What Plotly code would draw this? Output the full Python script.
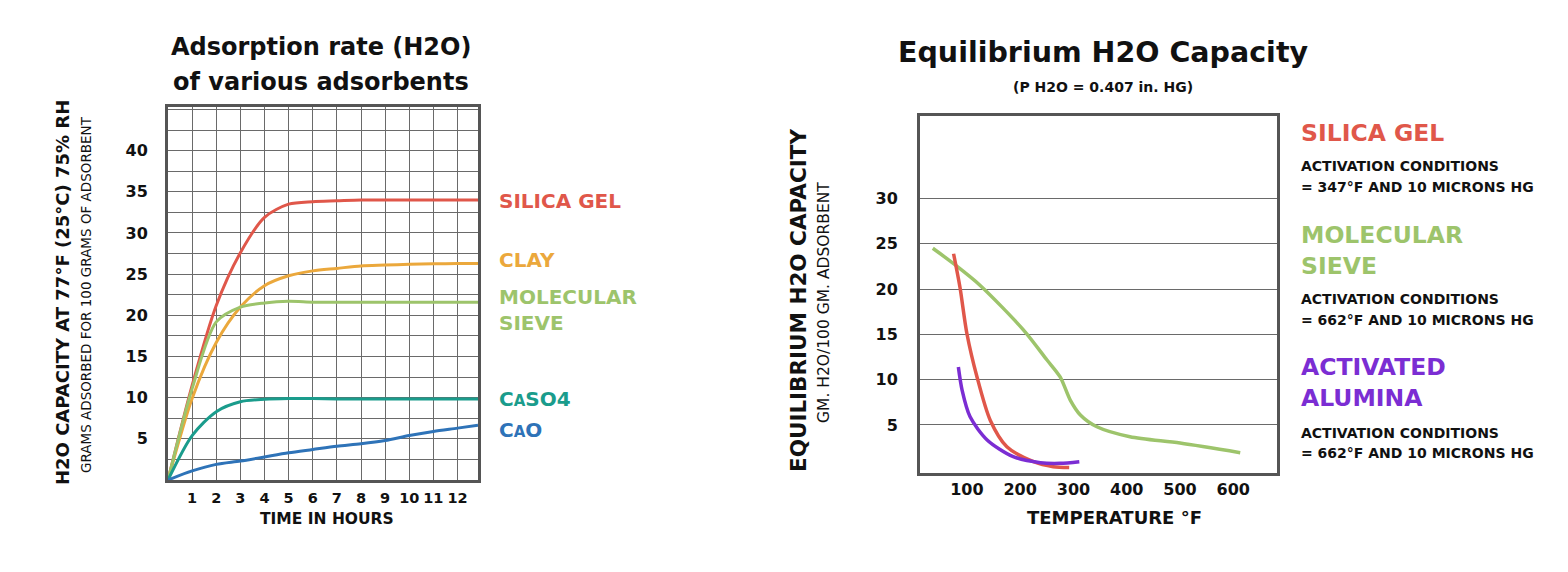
import plotly.graph_objects as go

# ---------------- data: left chart (adsorption rate) ----------------
hours = [0, 1, 2, 3, 4, 5, 6, 7, 8, 9, 10, 11, 12, 12.85]
silica_gel = [0, 11.5, 21.2, 27.6, 31.9, 33.5, 33.8, 33.9, 34.0, 34.0, 34.0, 34.0, 34.0, 34.0]
clay = [0, 9.9, 16.7, 21.0, 23.6, 24.8, 25.4, 25.7, 26.0, 26.1, 26.2, 26.25, 26.3, 26.3]
molecular_sieve = [0, 11.1, 19.2, 21.0, 21.5, 21.7, 21.6, 21.6, 21.6, 21.6, 21.6, 21.6, 21.6, 21.6]
caso4 = [0, 5.4, 8.3, 9.5, 9.8, 9.9, 9.9, 9.85, 9.85, 9.85, 9.85, 9.85, 9.85, 9.85]
cao = [0, 1.1, 1.9, 2.3, 2.8, 3.3, 3.7, 4.1, 4.4, 4.8, 5.4, 5.9, 6.3, 6.65]
left_x_ticks = [1, 2, 3, 4, 5, 6, 7, 8, 9, 10, 11, 12]
left_y_grid = [2.5, 5, 7.5, 10, 12.5, 15, 17.5, 20, 22.5, 25, 27.5, 30, 32.5, 35, 37.5, 40, 42.5, 45]
left_y_labels = ["", "5", "", "10", "", "15", "", "20", "", "25", "", "30", "", "35", "", "40", "", ""]

# ---------------- data: right chart (equilibrium capacity) ----------------
sieve_temp = [36, 75, 125, 206, 250, 275, 294, 313, 344, 406, 500, 613]
sieve_cap = [24.5, 22.8, 20.4, 15.5, 12.2, 10.3, 7.75, 6.1, 4.8, 3.7, 3.0, 1.94]
silica_temp = [75, 87, 100, 119, 144, 175, 225, 262, 292]
silica_cap = [23.9, 20.2, 15.1, 10.3, 5.5, 2.6, 0.95, 0.4, 0.3]
alumina_temp = [84, 91, 106, 138, 187, 238, 275, 311]
alumina_cap = [11.4, 8.85, 5.9, 3.35, 1.5, 0.84, 0.77, 0.95]
right_x_ticks = [100, 200, 300, 400, 500, 600]
right_y_ticks = [5, 10, 15, 20, 25, 30]

# ---------------- styles ----------------
W, H = 1568, 572
FONT = "DejaVu Sans"
RED = "#e0574a"
ORANGE = "#eba83c"
GREEN = "#9dc46b"
TEAL = "#1a9c8c"
BLUE = "#2e73b8"
PURPLE = "#7b2dd3"
BORDER = "#555555"
GRID = "#6a6a6a"
INK = "#111111"


def px(x, y):
    return x / W, 1 - y / H


fig = go.Figure()

left_series = [
    (silica_gel, RED),
    (clay, ORANGE),
    (molecular_sieve, GREEN),
    (caso4, TEAL),
    (cao, BLUE),
]
for vals, col in left_series:
    fig.add_trace(go.Scatter(x=hours, y=vals, mode="lines", xaxis="x", yaxis="y",
                             line=dict(color=col, width=3, shape="spline", smoothing=0.8),
                             showlegend=False, hoverinfo="skip"))

right_series = [
    (sieve_temp, sieve_cap, GREEN),
    (silica_temp, silica_cap, RED),
    (alumina_temp, alumina_cap, PURPLE),
]
for xs, ys, col in right_series:
    fig.add_trace(go.Scatter(x=xs, y=ys, mode="lines", xaxis="x2", yaxis="y2",
                             line=dict(color=col, width=3.5, shape="spline", smoothing=0.8),
                             showlegend=False, hoverinfo="skip"))

lx0, _ = px(168, 0)
lx1, _ = px(478, 0)
_, ly1 = px(0, 107)
_, ly0 = px(0, 480)
rx0, _ = px(920, 0)
rx1, _ = px(1277, 0)
_, ry1 = px(0, 116)
_, ry0 = px(0, 473)

tickfont = dict(family=FONT, size=16, color=INK, weight=600)
xtickfont = dict(family=FONT, size=14.5, color=INK, weight=600)

fig.update_layout(
    width=W, height=H,
    margin=dict(l=0, r=0, t=0, b=0),
    paper_bgcolor="white", plot_bgcolor="white",
    font=dict(family=FONT, color=INK),
    xaxis=dict(domain=[lx0, lx1], range=[0, 12.85], tickvals=left_x_ticks, tickangle=0,
               showgrid=True, gridcolor=GRID, gridwidth=1, zeroline=False,
               showline=True, mirror=True, linecolor=BORDER, linewidth=3,
               ticks="", tickfont=xtickfont, ticklabelstandoff=3, anchor="y"),
    yaxis=dict(domain=[ly0, ly1], range=[0, 45.3], tickvals=left_y_grid, ticktext=left_y_labels,
               showgrid=True, gridcolor=GRID, gridwidth=1, zeroline=False,
               showline=True, mirror=True, linecolor=BORDER, linewidth=3,
               ticks="", tickfont=tickfont, ticklabelstandoff=14, anchor="x"),
    xaxis2=dict(domain=[rx0, rx1], range=[12, 682], tickvals=right_x_ticks, tickangle=0,
                showgrid=False, zeroline=False,
                showline=True, mirror=True, linecolor=BORDER, linewidth=3,
                ticks="", tickfont=tickfont, anchor="y2"),
    yaxis2=dict(domain=[ry0, ry1], range=[-0.3, 39.1], tickvals=right_y_ticks,
                showgrid=True, gridcolor=GRID, gridwidth=1, zeroline=False,
                showline=True, mirror=True, linecolor=BORDER, linewidth=3,
                ticks="", tickfont=tickfont, ticklabelstandoff=16, anchor="x2"),
)

ann = []


def text(x, y, s, size, color=INK, weight=600, xanchor="center", yanchor="middle", angle=0, align="center"):
    ax, ay = px(x, y)
    ann.append(dict(x=ax, y=ay, xref="paper", yref="paper", text=s, showarrow=False,
                    xanchor=xanchor, yanchor=yanchor, textangle=angle, align=align,
                    font=dict(family=FONT, size=size, color=color, weight=weight)))


# left chart titles
text(321, 47, "Adsorption rate (H2O)", 24, weight=600)
text(321, 82, "of various adsorbents", 24, weight=600)
text(327, 519, "TIME IN HOURS", 15.5, weight=600)
text(63, 293, "H2O CAPACITY AT 77°F (25°C) 75% RH", 18, weight=600, angle=-90)
text(86, 295, "GRAMS ADSORBED FOR 100 GRAMS OF ADSORBENT", 13.5, weight=400, angle=-90)

# left chart series labels
text(497, 201, "SILICA GEL", 20, RED, xanchor="left")
text(497, 260, "CLAY", 20, ORANGE, xanchor="left")
text(497, 310, "MOLECULAR<br>SIEVE", 20, GREEN, xanchor="left", align="left")
text(497, 399, "C<span style='font-size:15px'>A</span>SO4", 20, TEAL, xanchor="left")
text(497, 430, "C<span style='font-size:15px'>A</span>O", 20, BLUE, xanchor="left")

# right chart titles
text(1103, 52, "Equilibrium H2O Capacity", 28.5, weight=600)
text(1103, 87, "(P H2O = 0.407 in. HG)", 14, weight=600)
text(1114, 517, "TEMPERATURE °F", 18, weight=600)
text(798, 301, "EQUILIBRIUM H2O CAPACITY", 21.5, weight=700, angle=-90)
text(824, 303, "GM. H2O/100 GM. ADSORBENT", 15.5, weight=400, angle=-90)

# right chart legend blocks
text(1299, 133, "SILICA GEL", 23.5, RED, xanchor="left")
text(1299, 166, "ACTIVATION CONDITIONS", 14, xanchor="left", weight=600)
text(1299, 187, "= 347°F AND 10 MICRONS HG", 14, xanchor="left", weight=600)
text(1299, 251, "MOLECULAR<br>SIEVE", 23.5, GREEN, xanchor="left", align="left")
text(1299, 299, "ACTIVATION CONDITIONS", 14, xanchor="left", weight=600)
text(1299, 320, "= 662°F AND 10 MICRONS HG", 14, xanchor="left", weight=600)
text(1299, 382, "ACTIVATED<br>ALUMINA", 23.5, PURPLE, xanchor="left", align="left")
text(1299, 433, "ACTIVATION CONDITIONS", 14, xanchor="left", weight=600)
text(1299, 453, "= 662°F AND 10 MICRONS HG", 14, xanchor="left", weight=600)

fig.update_layout(annotations=ann)
fig.write_html("out.html")
